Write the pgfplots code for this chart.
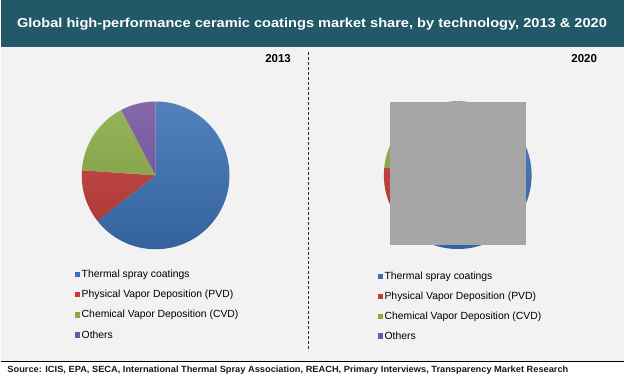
\documentclass[border=0pt]{standalone}
\usepackage{fontspec}
\setmainfont{Liberation Sans}
\usepackage{graphicx}
\usepackage{pgfplots}
\usepackage{pgfplotstable}
\pgfplotsset{compat=1.18}

\definecolor{titlebar}{HTML}{225868}
\definecolor{bg}{HTML}{F2F2F2}
\definecolor{tsblue}{HTML}{3B70B4}
\definecolor{pvdred}{HTML}{C23B38}
\definecolor{cvdgreen}{HTML}{89AC44}
\definecolor{othpurple}{HTML}{7354A0}
\definecolor{boxgray}{HTML}{A6A6A6}

% market share (%) by technology
\pgfplotstableread{
tech   s2013 s2020
Thermal 64.5 65.0
PVD     11.6 11.6
CVD     16.2 16.5
Others   7.7  6.9
}\shares

\newcommand\drawpie[3]{% column, cx, cy
  \def\cum{0}%
  \pgfplotsforeachungrouped \i in {0,...,3}{%
    \pgfplotstablegetelem{\i}{#1}\of\shares
    \let\s\pgfplotsretval
    \pgfmathsetmacro\aa{90-3.6*\cum}%
    \pgfmathsetmacro\bb{90-3.6*(\cum+\s)}%
    \pgfmathsetmacro\cum{\cum+\s}%
    \ifcase\i \def\c{tsblue}\or \def\c{pvdred}\or \def\c{cvdgreen}\or \def\c{othpurple}\fi
    \edef\temp{\noexpand\fill[\c] (axis cs:#2,#3) -- ++(\aa:74bp) arc[start angle=\aa,end angle=\bb,radius=74bp] -- cycle;}%
    \temp
  }%
  \shade[top color=white, bottom color=black, opacity=0.12] (axis cs:#2,#3) circle[radius=74bp];
}

\begin{document}
\begin{tikzpicture}
\begin{axis}[
  width=625bp, height=383bp, scale only axis,
  xmin=0, xmax=625, ymin=0, ymax=383,
  hide axis, clip=false,
]
% background
\fill[bg] (axis cs:0,0) rectangle (axis cs:625,383);
\fill[white] (axis cs:0,0) rectangle (axis cs:625,21);
\fill[titlebar] (axis cs:0,335.5) rectangle (axis cs:625,383);
\node[text=white,font=\bfseries\fontsize{13bp}{15bp}\selectfont,inner sep=0pt] at (axis cs:312,359)
  {\resizebox{591bp}{\height}{Global high-performance ceramic coatings market share, by technology, 2013 \& 2020}};

% divider
\draw[black!85, line width=1bp, dash pattern=on 3bp off 2bp] (axis cs:308.7,331) -- (axis cs:308.7,31);

% year labels
\node[font=\bfseries\fontsize{11.5bp}{13bp}\selectfont,inner sep=0pt] at (axis cs:278,324) {2013};
\node[font=\bfseries\fontsize{11.5bp}{13bp}\selectfont,inner sep=0pt] at (axis cs:584.7,324) {2020};

% pies
\drawpie{s2013}{155.3}{207.3}
\drawpie{s2020}{458}{207.5}

% overlay box on 2020 pie
\fill[boxgray] (axis cs:390,280.7) rectangle (axis cs:526.7,138);

% legends
\foreach \lx/\ly/\c/\t in {
  77.3/108/tsblue/Thermal spray coatings,
  77.3/88/pvdred/Physical Vapor Deposition (PVD),
  77.3/67.3/cvdgreen/Chemical Vapor Deposition (CVD),
  77.3/47.3/othpurple/Others,
  380.7/105.7/tsblue/Thermal spray coatings,
  380.7/85.7/pvdred/Physical Vapor Deposition (PVD),
  380.7/66/cvdgreen/Chemical Vapor Deposition (CVD),
  380.7/46.3/othpurple/Others}{
  \edef\temp{\noexpand\fill[\c] (axis cs:\lx-2.6,\ly-2.6) rectangle (axis cs:\lx+2.6,\ly+2.6);
  \noexpand\node[anchor=west,font=\noexpand\fontsize{10.4bp}{12bp}\noexpand\selectfont,inner sep=0pt] at (axis cs:\lx+3.8,\ly) {\t};}
  \temp
}

% source
\draw[black, line width=1.2bp] (axis cs:0,21) -- (axis cs:625,21);
\node[anchor=west,font=\bfseries\fontsize{9bp}{10bp}\selectfont,inner sep=0pt,text=black!90] at (axis cs:6.7,12)
  {\resizebox{562bp}{\height}{Source: ICIS, EPA, SECA, International Thermal Spray Association, REACH, Primary Interviews, Transparency Market Research}};
\end{axis}
\end{tikzpicture}
\end{document}
